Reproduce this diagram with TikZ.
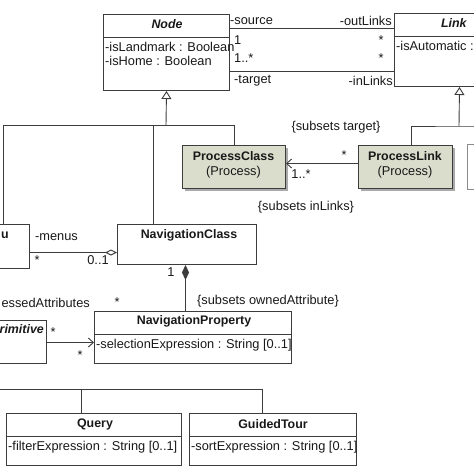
\documentclass[tikz,border=0pt]{standalone}
\usepackage{fontspec}
\setmainfont{Liberation Sans}
\usetikzlibrary{arrows.meta}
\definecolor{linec}{RGB}{60,60,60}
\definecolor{procfill}{RGB}{218,220,204}
\definecolor{shadowc}{RGB}{170,170,170}
\begin{document}
\begin{tikzpicture}[x=1pt,y=-1pt,
  every node/.style={font=\fontsize{12.8}{14}\selectfont, text=black!90},
  box/.style={draw=linec, line width=1pt, fill=white, inner sep=0pt, anchor=north west},
  procbox/.style={box, fill=procfill},
  ttl/.style={font=\fontsize{12.4}{14}\selectfont\bfseries, inner sep=0pt},
  attr/.style={inner sep=0pt, anchor=west},
  lbl/.style={inner sep=0pt},
  sep/.style={draw=linec, line width=0.9pt},
  conn/.style={draw=linec, line width=0.9pt},
  gen/.style={conn, -{Triangle[open, length=8pt, width=10pt, fill=white]}},
  nav/.style={conn, -{Straight Barb[length=5pt, width=9pt]}},
  agg/.style={conn, -{Diamond[open, length=12pt, width=6pt, fill=white]}},
  comp/.style={conn, -{Diamond[length=15pt, width=7pt]}}
]
\useasboundingbox (0,0) rectangle (474,474);
\clip (0,0) rectangle (474,474);
\fill[white] (0,0) rectangle (474,474);

% ---- Node
\node[box, minimum width=126pt, minimum height=76pt] (Node) at (103,14) {};
\draw[sep] ([yshift=-23pt]Node.north west) -- ([yshift=-23pt]Node.north east);
\node[ttl] (NodeT) at (167,24) {\textit{Node}};
\node[attr] (NodeA1) at (105,47) {-isLandmark : Boolean};
\node[attr] (NodeA2) at (105,61) {-isHome : Boolean};

% ---- Link
\node[box, minimum width=120pt, minimum height=73pt] (Link) at (394,13) {};
\draw[sep] ([yshift=-23pt]Link.north west) -- ([yshift=-23pt]Link.north east);
\node[ttl] (LinkT) at (454,23) {\textit{Link}};
\node[attr] (LinkA1) at (396,46) {-isAutomatic :};

% ---- Node - Link associations
\draw[conn] ([yshift=24pt]Node.east) -- ([yshift=21.5pt]Link.west);
\draw[conn] ([yshift=-19pt]Node.east) -- ([yshift=-21.5pt]Link.west);
\node[lbl, anchor=west] (l1) at (230,21) {-source};
\node[lbl, anchor=east] (l2) at (392,21) {-outLinks};
\node[lbl, anchor=west] (l3) at (234,40) {1};
\node[lbl] (l4) at (381,40) {*};
\node[lbl, anchor=west] (l5) at (234,58) {1..*};
\node[lbl] (l6) at (381,58) {*};
\node[lbl, anchor=west] (l7) at (234,81) {-target};
\node[lbl, anchor=east] (l8) at (393,81) {-inLinks};

% ---- Process boxes
\fill[shadowc] (185,148) rectangle (288,191);
\node[procbox, minimum width=103pt, minimum height=43pt] (ProcessClass) at (182,145) {};
\node[ttl] (PCT) at (233.5,156) {ProcessClass};
\node[lbl] (PCS) at (233.5,172) {(Process)};

\fill[shadowc] (361,148) rectangle (455,191);
\node[procbox, minimum width=94pt, minimum height=43pt] (ProcessLink) at (358,145) {};
\node[ttl] (PLT) at (405,156) {ProcessLink};
\node[lbl] (PLS) at (405,172) {(Process)};

\node[box, draw=black!45, minimum width=90pt, minimum height=45pt] (Other) at (467,144) {};

\draw[nav] ([yshift=3.5pt]ProcessLink.west) -- ([yshift=3.5pt]ProcessClass.east);
\node[lbl] (l9) at (344,155) {*};
\node[lbl] (l10) at (301,174) {1..*};
\node[lbl] (l11) at (336,127) {\{subsets target\}};
\node[lbl] (l12) at (306,207) {\{subsets inLinks\}};

% ---- Link generalization
\coordinate (g2) at (459,126);
\draw[gen] (g2) -- ([xshift=5pt]Link.south);
\draw[conn] ([xshift=6pt]ProcessLink.north) |- (g2) -| (Other.north);

% ---- Menu
\node[box, minimum width=69pt, minimum height=44pt] (Menu) at (-40,224) {};
\node[ttl, anchor=east] (MenuT) at (9,235) {u};

% ---- NavigationClass
\node[box, minimum width=139pt, minimum height=40pt] (NavigationClass) at (117,224) {};
\node[ttl] (NCT) at (189,235) {NavigationClass};

% ---- Node generalization tree
\coordinate (g1) at (166,125);
\draw[gen] (g1) -- (Node.south);
\draw[conn] ([xshift=8.5pt]Menu.north) |- (g1);
\draw[conn] ([xshift=-33.5pt]NavigationClass.north) |- (g1);
\draw[conn] (ProcessClass.north) |- (g1);

% ---- Menu - NavigationClass aggregation
\draw[agg] ([yshift=-6pt]Menu.east) -- ([yshift=-8pt]NavigationClass.west);
\node[lbl, anchor=west] (l13) at (35,237) {-menus};
\node[lbl] (l14) at (37,260) {*};
\node[lbl] (l15) at (98,260) {0..1};

% ---- NavigationProperty
\node[box, minimum width=197pt, minimum height=52pt] (NavigationProperty) at (94,311) {};
\draw[sep] ([yshift=-23pt]NavigationProperty.north west) -- ([yshift=-23pt]NavigationProperty.north east);
\node[ttl] (NPT) at (194,321) {NavigationProperty};
\node[attr] (NPA) at (96,345) {-selectionExpression : String [0..1]};

\draw[comp] ([xshift=-7.5pt]NavigationProperty.north) -- ([xshift=-1.5pt]NavigationClass.south);
\node[lbl] (l16) at (171,272) {1};
\node[lbl] (l17) at (117,302) {*};
\node[lbl, anchor=west] (l18) at (197,301) {\{subsets ownedAttribute\}};

% ---- Primitive
\node[box, minimum width=86pt, minimum height=43pt] (Primitive) at (-40,320) {};
\node[ttl, anchor=east] (PrT) at (44,329) {\textit{rimitive}};
\node[lbl, anchor=east] (l19) at (90,303) {essedAttributes};
\draw[nav] ([yshift=-0.5pt]Primitive.east) -- ([yshift=-5pt]NavigationProperty.west);
\node[lbl] (l20) at (53,332) {*};
\node[lbl] (l21) at (80,355) {*};

% ---- Query, GuidedTour
\node[box, minimum width=175pt, minimum height=52pt] (Query) at (6,413) {};
\draw[sep] ([yshift=-23pt]Query.north west) -- ([yshift=-23pt]Query.north east);
\node[ttl] (QT) at (95,424) {Query};
\node[attr] (QA) at (8,447) {-filterExpression : String [0..1]};

\node[box, minimum width=167pt, minimum height=52pt] (GuidedTour) at (189,413) {};
\draw[sep] ([yshift=-23pt]GuidedTour.north west) -- ([yshift=-23pt]GuidedTour.north east);
\node[ttl] (GTT) at (273,424) {GuidedTour};
\node[attr] (GTA) at (191,447) {-sortExpression : String [0..1]};

\coordinate (g3) at (-10,389);
\draw[conn] ([xshift=-12.5pt]Query.north) |- (g3);
\draw[conn] (g3) -| ([xshift=-10.5pt]GuidedTour.north);
\end{tikzpicture}
\end{document}
